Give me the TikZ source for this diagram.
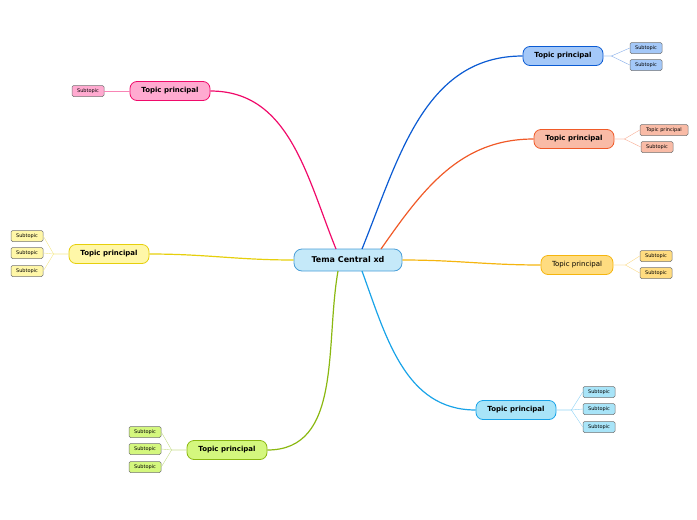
\documentclass[tikz,border=0pt]{standalone}
\usepackage{fontspec}
\setmainfont{DejaVu Sans}
\begin{document}
\begin{tikzpicture}[x=1pt,y=-1pt,
 topic/.style={draw=#1,line width=0.8pt,rounded corners=7pt,minimum height=19pt,minimum width=80pt,font=\bfseries\fontsize{7}{9}\selectfont,inner sep=1pt},
 sub/.style={draw=black!55,line width=0.5pt,rounded corners=1.5pt,minimum height=11pt,minimum width=32pt,font=\fontsize{5}{6}\selectfont,inner sep=1pt},
 br/.style={line width=1.2pt},
 sl/.style={line width=0.4pt}]
\definecolor{cB}{HTML}{0B5BD3}\definecolor{fB}{HTML}{A4C8F8}
\definecolor{cO}{HTML}{F05A28}\definecolor{fO}{HTML}{F9BBA6}
\definecolor{cY}{HTML}{F5B50F}\definecolor{fY}{HTML}{FFDC80}
\definecolor{cC}{HTML}{19A3E8}\definecolor{fC}{HTML}{A8E4F8}
\definecolor{cG}{HTML}{8BB811}\definecolor{fG}{HTML}{D4F77E}
\definecolor{cL}{HTML}{E6CF0C}\definecolor{fL}{HTML}{FFF7A8}
\definecolor{cP}{HTML}{F00A6A}\definecolor{fP}{HTML}{FFAAD0}
\definecolor{cM}{HTML}{4A9FD8}\definecolor{fM}{HTML}{C5E9F9}
\useasboundingbox (0,0) rectangle (697,520);
\node[draw=cM,fill=fM,line width=0.8pt,rounded corners=8pt,minimum width=108pt,minimum height=22pt,font=\bfseries\fontsize{8}{10}\selectfont] (c) at (348,260) {Tema Central xd};
\node[topic=cB,fill=fB] (t1) at (563,56) {Topic principal};
\node[topic=cO,fill=fO] (t2) at (574,139) {Topic principal};
\node[topic=cY,fill=fY,minimum width=72pt,font=\fontsize{7}{9}\selectfont] (t3) at (577,265) {Topic principal};
\node[topic=cC,fill=fC] (t4) at (516,410) {Topic principal};
\node[topic=cG,fill=fG] (t5) at (227,450) {Topic principal};
\node[topic=cL,fill=fL] (t6) at (109,254) {Topic principal};
\node[topic=cP,fill=fP] (t7) at (170,91) {Topic principal};
\draw[br,cB] (362,249) to[out=68,in=180] (t1.west);
\draw[br,cO] (381,249) to[out=55,in=180] (t2.west);
\draw[br,cY] (c.east) to[out=0,in=180] (t3.west);
\draw[br,cC] (362,271) to[out=-70,in=180] (t4.west);
\draw[br,cG] (338,271) to[out=-100,in=0] (t5.east);
\draw[br,cL] (c.west) to[out=180,in=0] (t6.east);
\draw[br,cP] (336,249) to[out=112,in=0] (t7.east);
\node[sub,fill=fB] (s11) at (646,48) {Subtopic};
\node[sub,fill=fB] (s12) at (646,65) {Subtopic};
\node[sub,fill=fO,minimum width=48pt] (s21) at (664,130) {Topic principal};
\node[sub,fill=fO] (s22) at (657,147) {Subtopic};
\node[sub,fill=fY] (s31) at (656,256) {Subtopic};
\node[sub,fill=fY] (s32) at (656,273) {Subtopic};
\node[sub,fill=fC] (s41) at (599,392) {Subtopic};
\node[sub,fill=fC] (s42) at (599,409) {Subtopic};
\node[sub,fill=fC] (s43) at (599,427) {Subtopic};
\node[sub,fill=fG] (s51) at (145,432) {Subtopic};
\node[sub,fill=fG] (s52) at (145,449) {Subtopic};
\node[sub,fill=fG] (s53) at (145,467) {Subtopic};
\node[sub,fill=fL] (s61) at (27,236) {Subtopic};
\node[sub,fill=fL] (s62) at (27,253) {Subtopic};
\node[sub,fill=fL] (s63) at (27,271) {Subtopic};
\node[sub,fill=fP] (s71) at (88,91) {Subtopic};
\draw[sl,cB!50] (t1.east) -- ++(8,0) -- (s11.west);
\draw[sl,cB!50] (t1.east) -- ++(8,0) -- (s12.west);
\draw[sl,cO!50] (t2.east) -- ++(10,0) -- (s21.west);
\draw[sl,cO!50] (t2.east) -- ++(10,0) -- (s22.west);
\draw[sl,cY!50] (t3.east) -- ++(12,0) -- (s31.west);
\draw[sl,cY!50] (t3.east) -- ++(12,0) -- (s32.west);
\draw[sl,cC!50] (t4.east) -- ++(15,0) -- (s41.west);
\draw[sl,cC!50] (t4.east) -- ++(15,0) -- (s42.west);
\draw[sl,cC!50] (t4.east) -- ++(15,0) -- (s43.west);
\draw[sl,cG!50] (t5.west) -- ++(-15,0) -- (s51.east);
\draw[sl,cG!50] (t5.west) -- ++(-15,0) -- (s52.east);
\draw[sl,cG!50] (t5.west) -- ++(-15,0) -- (s53.east);
\draw[sl,cL!50] (t6.west) -- ++(-15,0) -- (s61.east);
\draw[sl,cL!50] (t6.west) -- ++(-15,0) -- (s62.east);
\draw[sl,cL!50] (t6.west) -- ++(-15,0) -- (s63.east);
\draw[sl,cP!50] (t7.west) -- (s71.east);
\end{tikzpicture}
\end{document}
